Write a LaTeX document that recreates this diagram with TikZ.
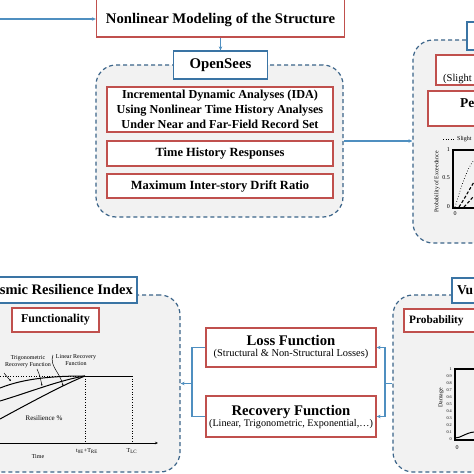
\documentclass[tikz,border=0pt]{standalone}
\usepackage{fontspec}
\setmainfont{Liberation Serif}
\usetikzlibrary{arrows.meta}
\definecolor{rd}{HTML}{C0504D}
\definecolor{bx}{HTML}{3A74A4}
\definecolor{cn}{HTML}{4F8FC0}
\definecolor{dsh}{HTML}{3B6489}
\definecolor{cfill}{HTML}{F2F2F2}
\begin{document}
\begin{tikzpicture}[x=1pt,y=-1pt,
  redbox/.style={draw=rd, line width=1.3pt, fill=white, inner sep=0pt, rectangle},
  bluebox/.style={draw=bx, line width=1.3pt, fill=white, inner sep=0pt, rectangle},
  cont/.style={draw=dsh, dash pattern=on 4pt off 3pt, line width=1.2pt, fill=cfill, rounded corners=20pt, rectangle, inner sep=0pt},
  conn/.style={draw=cn, line width=1.2pt},
  arr/.style={conn, -{Stealth[length=4pt,width=3.5pt]}},
  bt/.style={font=\fontsize{14.5}{16}\selectfont\bfseries},
  mt/.style={font=\fontsize{12.5}{15}\selectfont\bfseries, align=center},
  tiny/.style={font=\fontsize{6}{6.8}\selectfont, align=center, inner sep=0pt},
  axl/.style={line width=1.3pt, black}
]
\useasboundingbox (0,0) rectangle (474,474);
\clip (0,0) rectangle (474,474);
\fill[white] (0,0) rectangle (474,474);

% ---------- top ----------
\node[redbox, minimum width=248pt, minimum height=57pt] (top) at (220.5,8.5) {};
\node[font=\fontsize{14.7}{16}\selectfont\bfseries] (toptxt) at (220.5,20) {Nonlinear Modeling of the Structure};
\coordinate (lin) at (0,19);
\draw[arr] (lin) -- (top.west |- lin);

% ---------- OpenSees container ----------
\node[cont, minimum width=247pt, minimum height=152pt] (c1) at (219.5,141) {};
\node[bluebox, minimum width=94pt, minimum height=28pt, font=\fontsize{14.8}{16}\selectfont\bfseries] (os) at (220.5,65) {OpenSees};
\draw[arr] (top.south) -- (os.north);
\node[redbox, minimum width=226pt, minimum height=45pt, font=\fontsize{12.2}{14.8}\selectfont\bfseries, align=center] (ida) at (220,109.5) {Incremental Dynamic Analyses (IDA)\\Using Nonlinear Time History Analyses\\Under Near and Far-Field Record Set};
\node[redbox, minimum width=226pt, minimum height=25pt, mt] (thr) at (220,153.5) {Time History Responses};
\node[redbox, minimum width=226pt, minimum height=24pt, mt] (midr) at (220,186) {Maximum Inter-story Drift Ratio};

% ---------- top-right container ----------
\node[cont, minimum width=227pt, minimum height=203pt] (c2) at (526.5,141.5) {};
\draw[arr] (c1.east) -- (c2.west |- c1.east);
\node[bluebox, minimum width=93pt, minimum height=28pt] (trb) at (513.5,36) {};
\node[redbox, minimum width=164pt, minimum height=30pt] (tr1) at (518,70) {};
\node[anchor=west, inner sep=0pt, font=\fontsize{10.5}{12}\selectfont] (slt) at (443,79) {(Slight};
\node[redbox, minimum width=172pt, minimum height=35pt] (tr2) at (514,108.5) {};
\node[anchor=west, inner sep=0pt, font=\fontsize{13.5}{15}\selectfont\bfseries] (pe) at (460,103) {Pe};
\coordinate (lg1) at (443,139);
\coordinate (lg2) at (455,139);
\draw[black, line width=0.6pt, dotted] (lg1) -- (lg2);
\node[tiny, anchor=west] (lgt) at (457,139) {Slight};
\draw[axl] (474,150) -- (453,150) -- (453,208) -- (474,208);
\node[tiny, anchor=east] at (450,150) {1};
\node[tiny, anchor=east] at (450,178) {0.5};
\node[tiny, anchor=east] at (450,207) {0};
\node[tiny] at (455,214) {0};
\node[tiny, rotate=90, font=\fontsize{5.8}{6}\selectfont] (pex) at (437,182) {Probability of Exceedance};
\draw[black, line width=0.7pt, dotted] (455,207) .. controls (461,188) and (466,170) .. (474,160);
\draw[black, line width=1.1pt, dash pattern=on 3pt off 2pt] (459,207) .. controls (465,198) and (469,190) .. (474,182);
\draw[black, line width=1.1pt, dash pattern=on 3pt off 2pt] (464,207) .. controls (468,203) and (471,199) .. (474,196);

% ---------- bottom-left container ----------
\node[cont, minimum width=240pt, minimum height=177pt] (c3) at (60,383.5) {};
\node[bluebox, minimum width=157pt, minimum height=26pt] (sri) at (58.5,290) {};
\node[anchor=east, inner sep=0pt, bt] (sritxt) at (133,290) {smic Resilience Index};
\node[redbox, minimum width=87pt, minimum height=24pt, font=\fontsize{12}{14}\selectfont\bfseries] (fun) at (55.5,320) {Functionality};
% resilience plot
\draw[black, line width=0.6pt, dotted] (0,376) -- (85,376);
\draw[black, line width=1pt] (85,376) -- (132,376);
\draw[black, line width=0.6pt, dotted] (85,376) -- (85,443);
\draw[black, line width=0.6pt, dotted] (132,376) -- (132,443);
\draw[black, line width=1pt, -{Stealth[length=3pt,width=2.5pt]}] (0,443) -- (158,443);
\draw[black, line width=1pt] (0,388) .. controls (25,378) and (55,376) .. (85,376);
\draw[black, line width=1pt] (0,401) .. controls (30,392) and (60,380) .. (85,376);
\draw[black, line width=1pt] (0,419) .. controls (35,400) and (65,384) .. (85,376);
\node[tiny] (trig) at (28,362) {Trigonometric\\Recovery Function};
\node[tiny] (lrf) at (76,360) {Linear Recovery\\Function};
\draw[black, line width=0.5pt, -{Stealth[length=2pt,width=1.6pt]}] (4,373) .. controls (8,378) .. (11,381);
\draw[black, line width=0.5pt, -{Stealth[length=2pt,width=1.6pt]}] (37,369) .. controls (40,376) .. (42,386);
\draw[black, line width=0.5pt, -{Stealth[length=2pt,width=1.6pt]}] (53,355) .. controls (49,366) and (60,372) .. (63,386);
\node[font=\fontsize{7}{8}\selectfont, inner sep=0pt] (res) at (44,418) {Resilience \%};
\node[tiny] (t1) at (87,451) {t\textsubscript{0E}+T\textsubscript{RE}};
\node[tiny] (t2) at (132,451) {T\textsubscript{LC}};
\node[tiny] (tm) at (38,457) {Time};

% ---------- middle ----------
\node[redbox, minimum width=170pt, minimum height=39pt, align=center] (loss) at (291,347.5)
  {{\fontsize{14.7}{16}\selectfont\bfseries Loss Function}\\[-1pt]{\fontsize{10.4}{12}\selectfont (Structural \& Non-Structural Losses)}};
\node[redbox, minimum width=170pt, minimum height=41pt, align=center] (rec) at (291,416.5)
  {{\fontsize{14.7}{16}\selectfont\bfseries Recovery Function}\\[-1pt]{\fontsize{10.2}{12}\selectfont (Linear, Trigonometric, Exponential,…)}};
\coordinate (bl) at (192,383.5);
\draw[conn] (loss.west) -| (bl) |- (rec.west);
\draw[arr] (bl) -- (c3.east);

% ---------- bottom-right container ----------
\node[cont, minimum width=227pt, minimum height=177pt] (c4) at (506.5,383.5) {};
\coordinate (br) at (385,383.5);
\draw[conn] (c4.west) -- (br);
\draw[arr] (br) |- (loss.east);
\draw[arr] (br) |- (rec.east);
\node[bluebox, minimum width=108pt, minimum height=25pt] (vu) at (506,290.5) {};
\node[anchor=west, inner sep=0pt, font=\fontsize{13.5}{15}\selectfont\bfseries] (vutxt) at (457,290.5) {Vu};
\node[redbox, minimum width=196pt, minimum height=23pt] (prb) at (502,320.5) {};
\node[anchor=west, inner sep=0pt, font=\fontsize{11.3}{13}\selectfont\bfseries] (prbtxt) at (409,320.5) {Probability};
\draw[axl] (474,369) -- (455,369) -- (455,440) -- (474,440);
\foreach \v [count=\i from 0] in {0,0.1,0.2,0.3,0.4,0.5,0.6,0.7,0.8,0.9,1}
  \node[tiny, anchor=east, font=\fontsize{4.2}{4.5}\selectfont] at (452,{439-\i*7}) {\v};
\node[tiny] at (457,448) {0};
\node[tiny, rotate=90, font=\fontsize{5.8}{6}\selectfont] (dmg) at (441,398) {Damage};
\draw[black, line width=1pt] (455,438) .. controls (461,438) and (465,433) .. (474,432);
\end{tikzpicture}
\end{document}
